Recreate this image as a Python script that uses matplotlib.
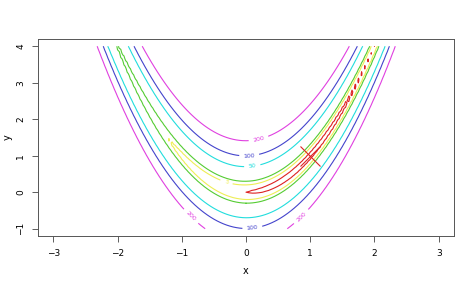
import numpy as np
import matplotlib
matplotlib.use("Agg")
import matplotlib.pyplot as plt

# grid the surface was evaluated on (Rosenbrock banana)
x_grid = np.arange(-3.0, 3.0001, 0.05)
y_grid = np.arange(-1.0, 4.0001, 0.05)
levels = [1, 5, 10, 50, 100, 200]
level_colors = ['#dd2222', '#eeee55', '#55cc33', '#22dddd', '#4444cc', '#e040e0']
optimum = (1.0, 1.0)

X, Y = np.meshgrid(x_grid, y_grid)
Z = (1 - X) ** 2 + 100 * (Y - X ** 2) ** 2

fig = plt.figure(figsize=(4.74, 2.84), dpi=100)
ax = fig.add_axes([0.080, 0.169, 0.878, 0.694])

cs = ax.contour(X, Y, Z, levels=levels, colors=level_colors, linewidths=0.8)
lab_pos = [(-0.3, 0.3), (0.1, 0.68), (0.05, 1.0), (0.2, 1.42),
           (0.1, -1.0), (-0.85, -0.65), (0.85, -0.65)]
ax.clabel(cs, inline=True, fontsize=4.5, manual=lab_pos, fmt='%d')

ax.plot(optimum[0], optimum[1], 'x', color='#dd2222', markersize=14, mew=0.8)

ax.set_xlim(-3.24, 3.24)
ax.set_ylim(-1.2, 4.2)
ax.set_xticks([-3, -2, -1, 0, 1, 2, 3])
ax.set_yticks([-1, 0, 1, 2, 3, 4])
ax.tick_params(labelsize=6.5, length=4, width=0.6, color='#444444', pad=5)
for lab in ax.get_yticklabels():
    lab.set_rotation(90)
    lab.set_va('center')
for s in ax.spines.values():
    s.set_linewidth(0.7)
    s.set_color('#555555')
ax.set_xlabel('x', fontsize=7, labelpad=6)
ax.set_ylabel('y', fontsize=7, labelpad=3)

fig.savefig('out.png', dpi=100)
